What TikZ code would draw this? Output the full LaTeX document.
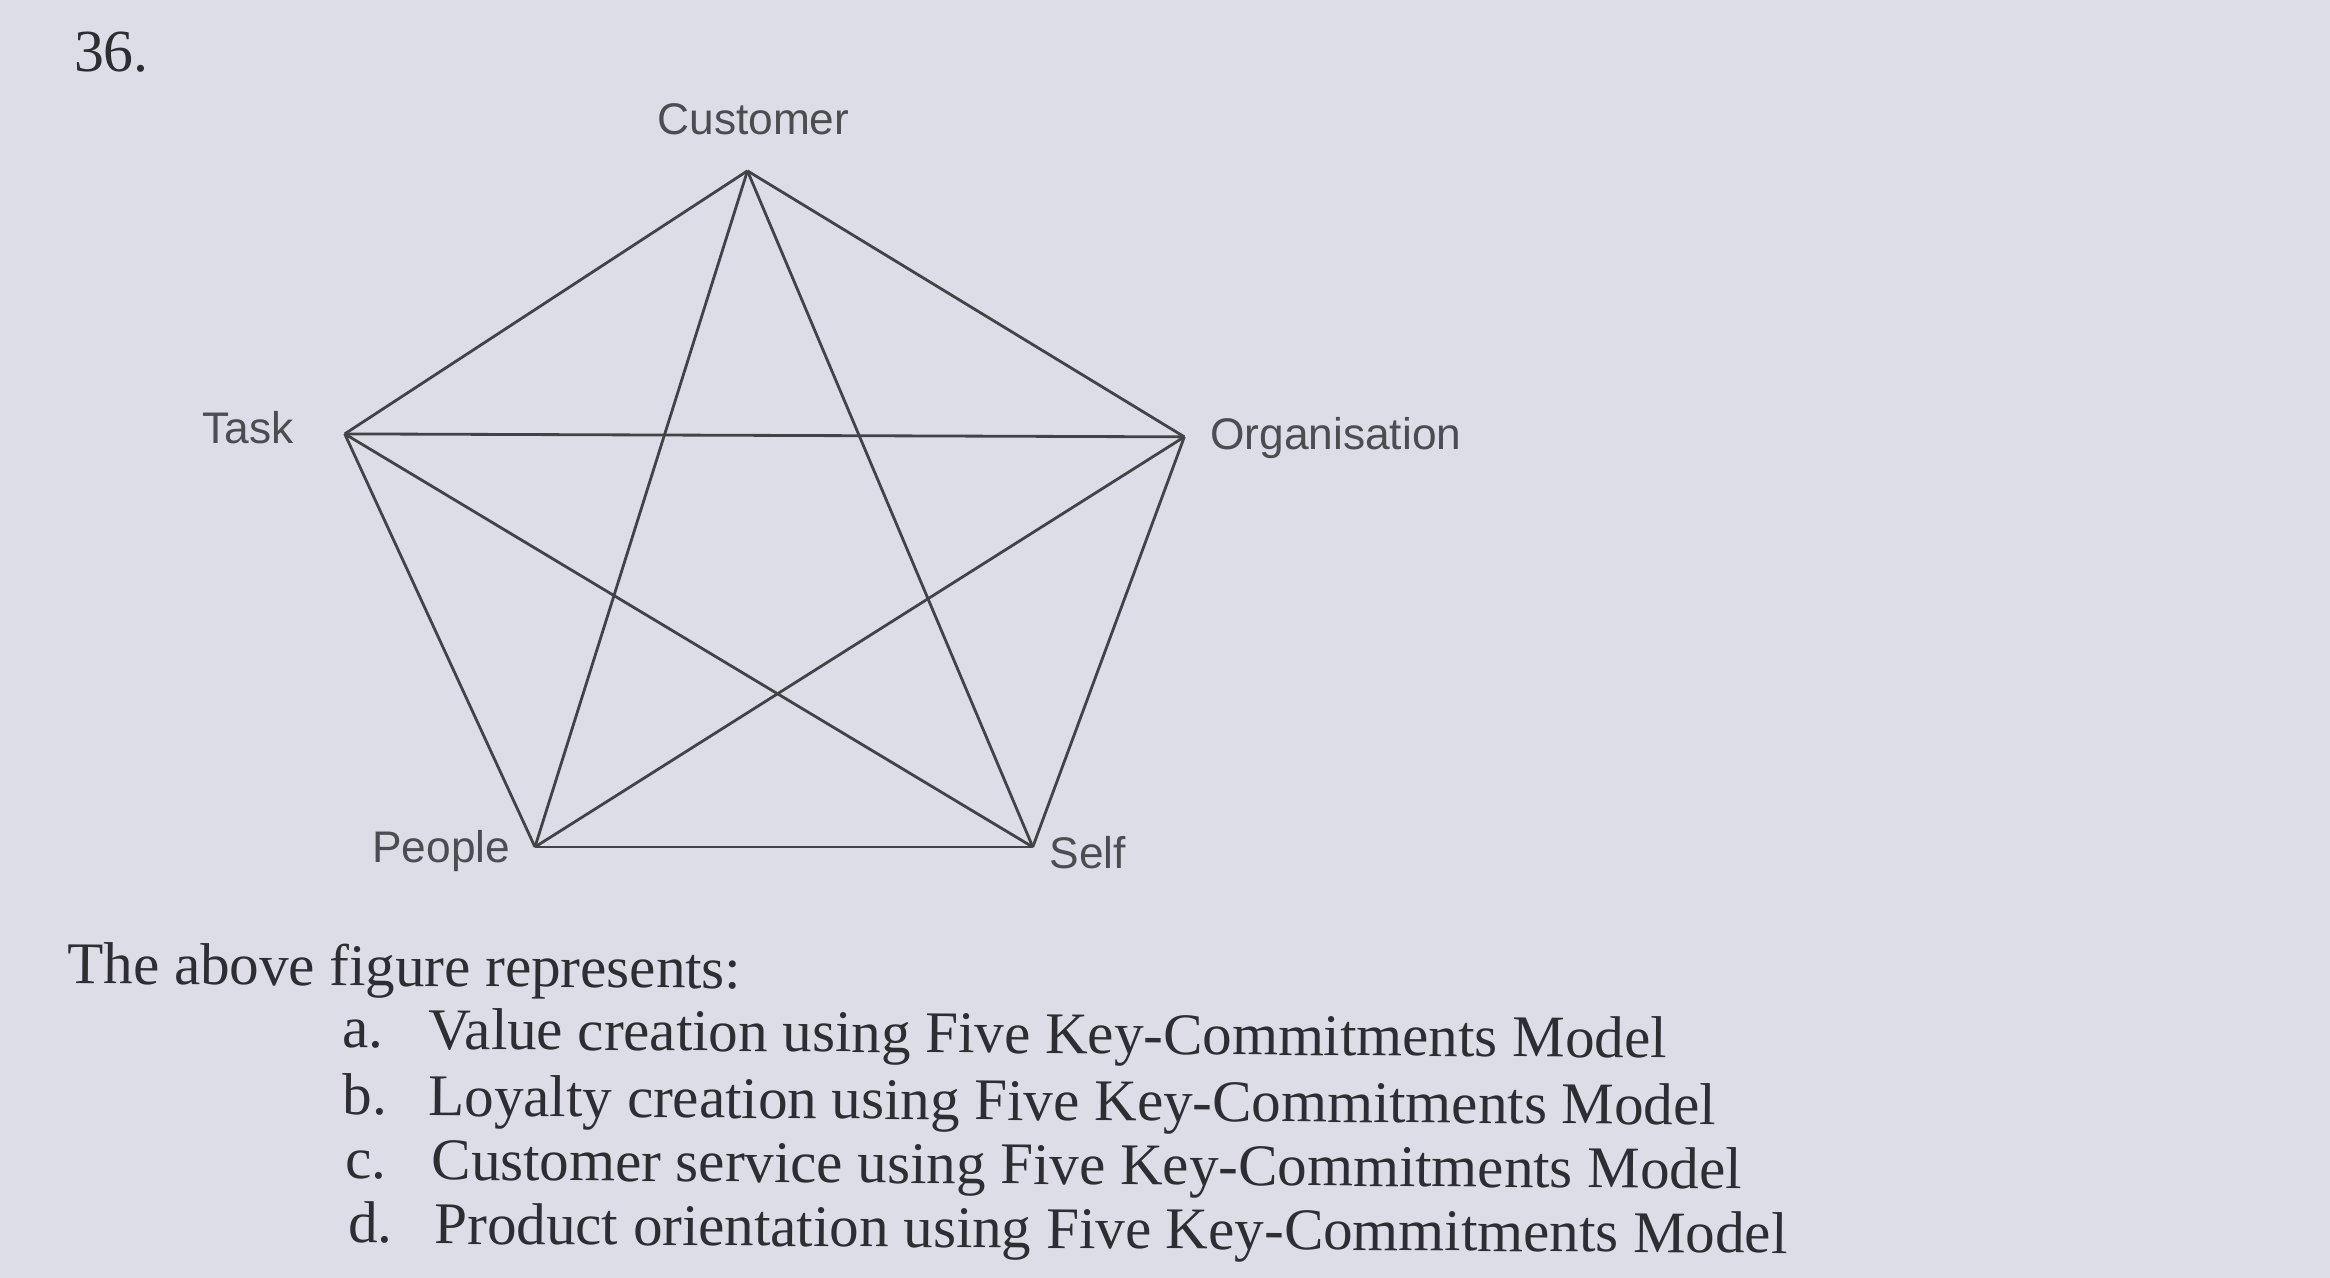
\documentclass[tikz,border=0pt]{standalone}
\usepackage{fontspec}
\setmainfont{Liberation Serif}
\newfontfamily\labelfont{Liberation Sans}
\definecolor{paper}{RGB}{221,221,231}
\definecolor{ink}{RGB}{45,45,50}
\tikzset{
	vlabel/.style={font=\labelfont\fontsize{12.6}{15}\selectfont, text=ink!85, inner sep=0pt},
	qline/.style={font=\fontsize{16.8}{20}\selectfont, text=ink, anchor=base west, inner sep=0pt, rotate=-0.4},
	edge/.style={draw=ink!90, line width=0.8pt}
}
\begin{document}
\begin{tikzpicture}[x=0.01486cm, y=-0.01486cm]
		\fill[paper] (0,0) rectangle (1568,860);
		\node[font=\fontsize{17}{20}\selectfont, text=ink, inner sep=0pt] at (75,35) (num) {36.};
		% corners of the pentagon
		\coordinate (cust) at (503,115);
		\coordinate (task) at (232,292);
		\coordinate (org) at (797,294);
		\coordinate (ppl) at (360,570);
		\coordinate (self) at (695,570);
		\node[vlabel] at (507,80) (lcust) {Customer};
		\node[vlabel] at (167,288) (ltask) {Task};
		\node[vlabel, anchor=west] at (814,295) (lorg) {Organisation};
		\node[vlabel] at (297,573) (lppl) {People};
		\node[vlabel] at (732,574) (lself) {Self};
		% every corner joined to every other one
		\foreach \a/\b in {cust/task, cust/org, cust/ppl, cust/self, task/org, task/ppl, task/self, org/ppl, org/self, ppl/self}
			\draw[edge] (\a) -- (\b);
		% question text
		\node[qline] at (45,662) (q) {The above figure represents:};
		\node[qline] at (230,705) (la) {a.};
		\node[qline] at (288,706) (ta) {Value creation using Five Key-Commitments Model};
		\node[qline] at (230,750) (lb) {b.};
		\node[qline] at (288,751) (tb) {Loyalty creation using Five Key-Commitments Model};
		\node[qline] at (232,793) (lc) {c.};
		\node[qline] at (290,794) (tc) {Customer service using Five Key-Commitments Model};
		\node[qline] at (234,836) (ld) {d.};
		\node[qline] at (292,837) (td) {Product orientation using Five Key-Commitments Model};
	\end{tikzpicture}
\end{document}
